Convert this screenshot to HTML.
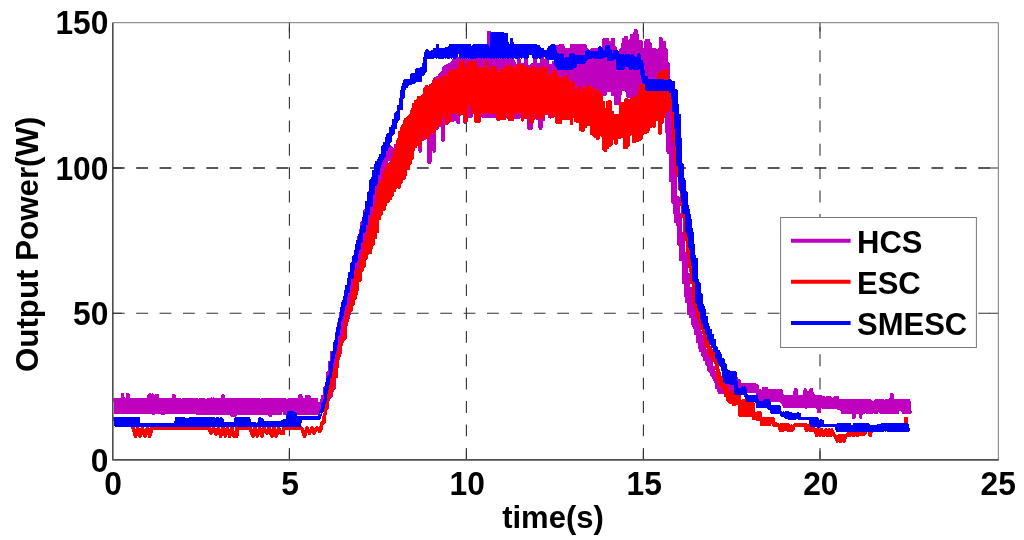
<!DOCTYPE html>
<html><head><meta charset="utf-8"><title>Output Power plot</title>
<style>html,body{margin:0;padding:0;background:#fff}#fig{position:relative;width:1024px;height:540px;overflow:hidden;background:#fff}</style>
</head><body><div id="fig">
<svg width="1024" height="540" viewBox="0 0 1024 540" style="position:absolute;left:0;top:0">
<rect width="1024" height="540" fill="#fff"/>
<g stroke="#333" stroke-width="1.1" stroke-dasharray="11.8 11.59" fill="none"><line x1="289.4" y1="459.7" x2="289.4" y2="22.7"/><line x1="466.4" y1="459.7" x2="466.4" y2="22.7"/><line x1="643.4" y1="459.7" x2="643.4" y2="22.7"/><line x1="820.0" y1="459.7" x2="820.0" y2="22.7" stroke-width="1.3" stroke="#555"/><line x1="112.8" y1="313.3" x2="998.3" y2="313.3"/><line x1="112.8" y1="168.0" x2="998.3" y2="168.0" stroke-width="1.4" stroke="#222"/></g><path d="M289.4 22.7v8.9M289.4 459.7v-8.9M466.4 22.7v8.9M466.4 459.7v-8.9M643.4 22.7v8.9M643.4 459.7v-8.9M820.0 22.7v8.9M820.0 459.7v-8.9M112.8 313.3h8.9M998.3 313.3h-8.9M112.8 168.0h8.9M998.3 168.0h-8.9" stroke="#333" stroke-width="1.1" fill="none"/>
<clipPath id="cp"><rect x="113.4" y="23.2" width="884.3" height="435.6"/></clipPath>
<g clip-path="url(#cp)" fill="none" stroke-width="3.7" stroke-linejoin="round" stroke-linecap="round" shape-rendering="crispEdges">
<path stroke="#bf00bf" d="M114.6 400.0L115.3 400.0L115.8 412.3L116.4 412.3L117.3 400.0L118.0 412.3L118.4 412.3L118.9 400.0L119.3 400.0L120.2 412.3L120.6 400.0L121.1 412.3L121.8 400.0L122.2 412.3L122.6 395.0L123.3 412.3L124.1 400.0L124.7 412.3L125.5 400.0L126.0 412.3L126.8 412.3L127.6 395.0L128.3 395.0L128.8 412.3L129.3 400.0L130.0 412.3L130.6 400.0L131.1 412.3L131.9 412.3L132.4 400.0L133.1 400.0L133.7 412.3L134.1 412.3L134.8 400.0L135.5 400.0L136.1 412.4L136.6 400.0L137.0 400.0L137.8 412.4L138.6 412.4L139.5 400.0L139.9 412.4L140.6 412.4L141.2 400.0L141.8 412.4L142.5 412.4L143.0 400.0L143.7 412.4L144.3 400.0L145.2 400.0L145.9 412.4L146.7 400.0L147.6 400.0L148.4 412.4L149.3 395.2L150.0 412.4L150.5 395.2L151.1 412.4L151.5 412.4L152.2 395.2L152.8 413.0L153.6 413.0L154.3 400.0L155.1 400.0L155.7 412.4L156.2 395.5L157.1 395.5L158.0 412.3L158.7 400.0L159.5 400.0L160.0 412.3L160.5 400.0L161.1 400.0L161.7 412.9L162.6 412.9L163.1 400.0L163.5 400.0L163.9 412.9L164.4 412.9L165.3 400.0L166.2 412.4L166.6 412.4L167.3 400.0L168.0 412.4L168.7 400.0L169.4 412.4L169.9 400.0L170.6 400.0L171.0 412.4L171.6 400.0L172.2 400.0L173.0 412.4L173.7 395.5L174.6 412.4L175.1 412.4L175.5 400.0L176.0 412.4L176.7 400.0L177.1 400.0L177.9 412.4L178.6 412.4L179.2 400.0L180.0 400.0L180.5 412.5L181.0 412.5L181.9 402.0L182.6 412.5L183.2 400.0L183.9 400.0L184.7 412.5L185.1 400.0L185.9 400.0L186.5 412.5L187.0 400.0L187.6 412.5L188.3 412.5L189.2 400.0L190.0 412.5L190.7 412.5L191.5 400.0L192.2 412.5L193.0 400.0L193.9 400.0L194.7 412.5L195.2 412.5L195.8 400.0L196.6 400.0L197.2 413.6L197.8 403.5L198.3 413.6L199.1 403.5L199.6 413.6L200.1 400.0L200.7 400.0L201.6 412.9L202.1 412.9L202.8 400.0L203.6 400.0L204.5 413.5L204.9 413.5L205.7 401.1L206.3 401.1L206.7 413.5L207.2 413.5L208.0 400.0L208.6 413.5L209.1 400.0L209.7 400.0L210.1 413.5L210.7 413.5L211.3 399.2L211.8 413.5L212.6 413.5L213.2 399.2L214.0 399.2L214.6 413.5L215.2 413.5L215.9 401.7L216.4 413.5L217.0 413.5L217.6 400.0L218.3 413.5L219.0 400.0L219.7 413.5L220.3 400.0L221.1 400.0L221.5 413.5L222.1 413.5L223.0 395.9L223.8 413.5L224.3 413.5L225.1 400.0L225.9 400.0L226.7 413.5L227.4 413.5L228.2 400.0L229.0 400.0L229.6 413.5L230.1 413.5L230.6 400.3L231.4 400.3L231.9 415.1L232.7 415.1L233.2 400.0L233.8 400.0L234.3 415.1L234.8 415.1L235.2 400.0L235.7 407.9L236.1 400.0L236.8 413.5L237.2 413.5L237.9 400.0L238.5 400.0L239.0 413.5L239.7 413.5L240.5 400.0L241.2 413.5L242.0 400.0L242.8 400.0L243.4 413.5L244.2 400.0L244.9 413.5L245.5 400.0L246.3 413.5L247.0 413.5L247.9 400.0L248.7 400.0L249.6 413.5L250.1 413.5L251.0 400.0L251.7 413.5L252.2 400.0L252.7 400.0L253.5 413.5L254.0 413.5L254.6 400.0L255.1 413.5L255.5 400.0L256.4 400.0L256.9 413.5L257.4 413.5L257.9 400.0L258.7 413.5L259.3 400.0L260.1 413.5L260.9 413.5L261.8 400.0L262.5 413.5L263.1 413.5L263.6 400.0L264.2 413.5L265.1 400.0L265.5 413.5L266.0 400.0L266.4 413.5L266.9 413.5L267.5 400.0L268.3 413.1L268.8 413.1L269.5 400.0L270.1 415.0L270.8 415.0L271.6 400.0L272.3 400.0L272.7 413.5L273.4 400.0L274.3 413.5L274.9 413.5L275.5 400.0L276.1 413.5L276.5 413.5L277.2 400.0L278.0 400.0L278.9 413.5L279.5 413.5L280.0 400.0L280.6 413.5L281.4 400.0L282.3 409.8L283.0 400.0L283.7 400.0L284.5 413.5L285.4 400.0L286.2 413.5L287.0 402.9L287.6 402.9L288.4 413.5L289.0 400.0L289.8 413.5L290.2 400.0L290.8 408.8L291.5 400.0L292.2 408.8L292.8 408.8L293.7 400.0L294.5 400.0L295.2 413.5L295.9 413.5L296.5 400.0L297.3 413.5L298.1 400.0L298.7 413.5L299.2 413.5L300.0 396.1L300.8 396.1L301.3 413.5L302.1 413.5L302.7 400.0L303.3 413.5L304.2 400.0L304.6 400.0L305.2 413.5L306.0 413.5L306.4 396.6L306.8 396.6L307.6 413.5L308.2 396.6L309.0 396.6L309.6 413.5L310.3 400.0L310.9 400.0L311.5 413.5L312.0 400.0L312.8 413.5L313.6 400.0L314.4 400.0L315.2 413.5L315.8 400.0L316.6 400.0L317.0 413.5L317.5 413.5L318.5 406.0L319.3 406.0L320.1 410.5L320.7 410.5L321.5 400.7L322.2 410.2L322.9 396.7L323.4 396.7L324.1 409.2L324.5 409.2L325.0 387.9L325.9 387.9L326.6 407.8L327.4 407.8L328.2 372.5L329.1 397.3L329.7 362.6L330.4 362.6L331.1 396.1L331.9 352.8L332.3 352.8L333.0 388.0L333.9 388.0L334.6 346.4L335.2 346.4L336.0 373.7L336.5 373.7L337.4 330.0L338.2 358.7L338.8 323.5L339.6 352.3L340.3 352.3L341.1 312.8L341.5 312.8L341.9 341.2L342.6 341.2L343.5 304.6L344.1 334.3L344.5 334.3L345.1 297.5L345.8 297.5L346.5 324.8L347.0 289.3L347.6 289.3L348.0 317.6L348.6 317.6L349.5 281.0L350.0 308.7L350.9 274.9L351.7 301.3L352.1 267.0L352.6 297.2L353.1 297.2L353.9 259.6L354.8 287.9L355.5 287.9L356.4 247.9L357.1 247.9L357.5 273.5L358.4 273.5L359.0 237.2L359.6 237.2L360.0 262.6L360.4 231.0L361.1 258.0L361.9 223.0L362.7 223.0L363.6 250.0L364.3 250.0L365.1 210.4L365.5 210.4L366.0 240.2L366.7 240.2L367.2 203.2L367.9 203.2L368.3 230.5L369.0 230.5L369.6 192.6L370.1 192.6L370.7 220.6L371.2 186.6L371.7 216.2L372.3 216.2L373.0 183.1L373.5 183.1L373.9 206.3L374.4 206.3L374.9 176.2L375.4 201.1L375.9 173.5L376.5 196.6L377.2 169.6L377.7 169.6L378.2 190.5L378.7 164.4L379.4 164.4L380.2 185.2L380.9 158.0L381.4 181.0L381.8 155.6L382.4 155.6L383.1 174.7L383.6 152.7L384.3 168.7L385.0 155.0L385.8 164.3L386.3 164.3L386.8 152.3L387.5 159.6L388.4 159.6L389.3 146.8L390.0 158.4L390.8 158.4L391.2 148.2L391.8 148.2L392.4 183.0L392.9 183.0L393.3 149.5L394.0 149.5L394.8 178.5L395.3 178.5L396.0 145.3L396.7 145.3L397.5 167.1L398.3 139.8L398.8 164.6L399.5 164.6L400.0 139.4L400.5 139.4L401.1 163.3L401.8 163.3L402.4 131.2L403.1 159.1L403.8 128.5L404.2 128.5L404.8 154.3L405.6 124.2L406.2 152.1L407.0 152.1L407.9 120.3L408.4 120.3L409.1 151.3L409.7 116.6L410.3 116.6L411.0 149.1L411.8 149.1L412.3 111.3L412.9 147.5L413.3 147.5L413.7 109.2L414.5 109.2L415.0 145.7L415.8 106.3L416.6 106.3L417.1 141.3L417.6 103.9L418.2 140.3L418.8 102.3L419.6 102.3L420.3 151.0L421.0 100.0L421.8 100.0L422.5 139.3L423.2 97.0L423.9 138.1L424.6 138.1L425.1 94.5L425.9 94.5L426.7 135.8L427.2 135.8L427.8 90.3L428.3 90.3L429.1 162.0L429.8 162.0L430.3 90.9L430.7 90.9L431.5 130.8L432.2 84.3L432.8 129.7L433.6 81.3L434.2 151.0L435.1 79.0L435.5 79.0L436.4 128.0L437.1 128.0L437.8 77.5L438.5 77.5L439.1 125.7L439.6 75.6L440.0 125.0L440.5 74.6L441.2 124.5L441.9 73.0L442.7 140.0L443.1 140.0L443.7 68.4L444.3 68.4L444.8 121.3L445.2 66.9L445.8 66.9L446.6 122.4L447.1 65.7L447.7 65.7L448.2 121.7L448.8 121.7L449.3 64.4L450.0 64.4L450.8 120.7L451.2 63.3L451.9 63.3L452.6 120.0L453.0 120.0L453.8 60.0L454.5 119.2L455.2 59.2L455.9 118.8L456.8 118.8L457.3 58.3L458.0 122.0L458.6 122.0L459.4 59.0L459.9 59.0L460.6 113.7L461.1 113.7L461.7 57.9L462.2 57.9L462.9 113.1L463.7 57.1L464.2 57.1L464.6 122.0L465.3 56.3L465.8 56.3L466.5 116.0L467.1 55.8L468.0 55.8L468.5 116.1L469.2 59.3L469.9 116.1L470.5 59.1L471.1 116.1L471.8 58.9L472.5 58.9L473.1 112.4L473.5 112.4L474.0 58.3L474.7 58.3L475.4 112.5L475.9 58.0L476.6 58.0L477.1 112.6L477.7 57.8L478.4 112.6L478.9 112.6L479.5 53.3L479.9 53.3L480.7 111.8L481.3 111.8L482.0 53.3L482.5 53.3L483.1 116.4L483.5 53.3L484.3 53.3L484.9 116.5L485.6 116.5L486.3 54.0L486.7 54.0L487.2 116.5L487.8 116.5L488.6 32.5L489.2 32.5L489.7 116.6L490.4 116.6L491.0 58.3L491.7 116.7L492.3 58.2L492.9 116.7L493.5 58.1L494.1 58.1L495.0 116.7L495.6 53.4L496.3 53.4L497.1 116.4L498.0 53.2L498.8 53.2L499.6 116.5L500.3 116.5L501.0 53.0L501.7 53.0L502.4 116.9L503.3 53.0L504.2 113.6L504.7 53.0L505.6 53.0L506.0 113.6L506.6 113.6L507.5 53.0L508.2 53.0L508.7 117.1L509.1 117.1L509.6 53.0L510.4 117.1L511.0 117.1L511.8 54.5L512.3 117.2L513.2 117.2L513.7 61.8L514.1 117.2L514.6 65.4L515.0 65.4L515.7 117.3L516.2 117.3L516.9 65.4L517.5 65.4L518.0 117.3L518.7 59.0L519.5 116.7L520.2 116.7L521.0 65.0L521.5 65.0L522.0 116.8L522.9 116.8L523.5 65.0L523.9 65.0L524.5 116.9L524.9 116.9L525.5 59.0L526.1 59.0L526.8 117.5L527.3 117.5L527.9 66.6L528.5 66.6L529.0 128.0L529.8 66.6L530.6 128.0L531.0 128.0L531.7 65.0L532.3 116.1L532.8 65.0L533.4 65.0L534.3 117.7L534.7 117.7L535.3 59.0L536.1 117.8L536.9 65.0L537.4 117.8L538.2 65.0L538.7 117.8L539.6 64.4L540.2 128.0L540.8 128.0L541.7 59.0L542.6 59.0L543.4 119.1L544.2 69.8L544.9 113.6L545.6 113.6L546.3 59.0L547.0 59.0L547.7 112.9L548.3 65.3L549.0 65.3L549.8 116.7L550.5 116.7L551.0 65.3L551.5 116.3L552.0 116.3L552.4 65.3L553.1 115.8L553.6 62.9L554.4 62.9L555.0 112.3L555.9 53.4L556.6 111.8L557.2 46.7L557.9 46.7L558.6 114.4L559.1 114.4L559.9 46.0L560.6 46.0L561.5 113.6L561.9 46.0L562.7 46.0L563.6 108.6L564.4 50.0L565.2 50.0L565.7 108.0L566.1 50.0L566.7 50.0L567.6 107.5L568.1 107.5L568.7 50.0L569.3 50.0L569.9 111.4L570.6 111.4L571.5 46.0L572.2 46.0L572.8 107.1L573.4 46.0L574.1 46.0L574.7 106.6L575.3 46.0L576.1 107.5L576.9 107.5L577.6 46.0L578.4 106.1L578.9 46.0L579.8 46.0L580.3 104.6L580.8 46.0L581.4 46.0L581.9 103.7L582.8 46.0L583.2 46.0L583.7 102.6L584.6 46.0L585.2 46.0L586.0 107.2L586.8 50.0L587.7 106.2L588.2 106.2L588.8 51.2L589.3 101.9L589.8 101.9L590.3 51.2L591.1 51.2L591.9 100.4L592.4 50.0L593.1 50.0L594.0 99.3L594.7 50.0L595.2 50.0L596.0 98.1L596.8 98.1L597.4 50.0L597.8 50.0L598.5 96.7L599.2 50.0L599.9 50.0L600.8 95.3L601.2 50.0L601.6 94.8L602.2 50.0L603.1 50.0L603.5 94.0L604.0 40.1L604.4 94.0L604.9 94.0L605.5 40.0L606.1 40.0L606.8 90.0L607.5 40.0L608.2 90.0L608.9 90.0L609.3 42.6L610.0 90.0L610.5 90.0L611.1 42.6L612.0 42.6L612.5 94.0L613.0 39.5L613.8 94.0L614.6 94.0L615.3 48.0L616.0 103.5L616.7 54.1L617.5 54.1L618.1 103.5L618.8 103.5L619.3 56.2L620.1 56.2L620.6 93.2L621.3 49.6L622.0 89.2L622.7 89.2L623.4 39.8L624.3 39.8L624.8 89.2L625.3 89.2L625.8 37.4L626.6 37.4L627.4 95.2L627.9 42.2L628.4 96.3L629.2 41.9L629.8 96.1L630.5 96.1L631.4 35.7L631.8 35.7L632.6 94.7L633.4 94.7L634.2 34.0L634.7 34.0L635.4 94.9L635.9 30.5L636.7 94.7L637.5 36.0L638.2 94.4L638.7 94.4L639.1 42.0L639.9 94.2L640.6 42.0L641.4 42.0L642.1 92.9L643.0 92.9L643.8 49.4L644.7 94.4L645.5 94.4L646.3 40.8L646.7 93.8L647.5 40.8L648.1 93.3L648.6 40.8L649.0 93.0L649.8 93.0L650.3 44.0L651.2 92.3L651.9 92.3L652.5 49.5L653.4 49.5L654.1 91.3L654.7 91.3L655.1 49.9L655.8 90.7L656.2 90.7L656.9 56.4L657.4 85.3L658.3 85.3L658.8 50.1L659.3 50.1L659.9 99.5L660.8 38.6L661.2 97.4L661.8 97.4L662.3 42.8L663.1 74.9L663.5 74.9L664.2 42.8L664.7 100.0L665.5 50.1L666.0 50.1L666.7 131.8L667.3 131.8L667.7 63.3L668.2 152.0L668.9 152.0L669.7 102.4L670.4 102.4L670.9 180.5L671.7 134.8L672.4 134.8L673.1 202.2L673.8 160.5L674.7 213.0L675.2 175.8L675.9 221.7L676.5 221.7L677.2 198.0L678.0 198.0L678.6 243.9L679.4 214.4L680.3 214.4L680.9 259.6L681.5 259.6L682.4 233.9L683.0 233.9L683.7 282.7L684.3 282.7L685.1 254.3L685.9 254.3L686.4 301.0L687.2 301.0L688.1 274.3L688.9 313.6L689.4 313.6L690.1 288.6L690.8 316.5L691.2 316.5L691.9 300.6L692.3 300.6L693.2 324.9L694.0 310.8L694.8 310.8L695.5 333.0L696.1 333.0L696.6 319.9L697.2 319.9L697.9 341.5L698.5 326.0L699.1 326.0L699.6 347.1L700.4 332.7L701.0 350.6L701.7 337.1L702.3 337.1L703.0 355.3L703.4 344.7L704.1 344.7L704.6 359.1L705.5 359.1L705.9 351.9L706.6 363.8L707.1 363.8L707.7 350.8L708.3 350.8L708.8 370.0L709.4 354.9L710.2 354.9L710.7 371.8L711.1 362.7L711.5 374.3L712.2 374.3L712.9 367.2L713.4 377.9L714.3 377.9L714.7 372.7L715.4 381.7L715.9 376.3L716.7 387.6L717.1 387.6L717.9 377.6L718.8 377.6L719.2 392.0L719.7 378.0L720.2 378.0L720.8 392.0L721.6 392.0L722.2 378.0L722.7 378.0L723.4 391.9L724.1 378.0L724.8 391.9L725.3 391.9L725.8 378.0L726.3 391.8L727.1 378.0L727.6 391.8L728.3 378.0L728.7 378.0L729.6 391.7L730.5 378.0L731.3 378.0L731.9 391.7L732.7 381.0L733.4 381.0L734.0 391.6L734.5 391.6L735.5 378.1L736.4 378.1L737.2 391.5L738.0 391.5L738.8 380.9L739.7 391.5L740.5 385.0L741.3 385.0L742.0 391.5L742.7 385.0L743.3 391.5L743.8 385.0L744.5 391.5L745.3 385.0L746.1 385.0L747.0 391.5L747.8 391.5L748.5 385.0L748.9 391.5L749.6 385.0L750.0 385.0L750.5 391.5L751.4 391.5L752.2 385.0L752.7 385.0L753.3 391.5L754.0 391.5L754.6 385.0L755.3 391.5L756.0 385.5L756.9 385.5L757.7 398.4L758.2 391.0L758.9 398.4L759.5 391.0L760.0 391.0L760.9 400.0L761.4 400.0L762.3 393.4L763.1 398.9L763.9 388.7L764.5 388.7L765.1 398.9L765.5 398.9L766.1 388.7L766.7 388.7L767.4 400.0L768.2 400.0L768.7 391.0L769.5 400.0L770.1 400.0L770.5 391.0L771.3 391.0L772.0 400.0L772.8 400.0L773.3 391.0L774.1 391.0L774.7 400.0L775.5 400.0L775.9 391.0L776.6 400.0L777.4 391.0L777.9 391.0L778.6 400.0L779.0 400.0L779.6 391.0L780.2 400.0L780.6 400.0L781.5 391.0L782.2 402.3L782.7 396.5L783.5 396.5L784.3 406.0L784.7 406.0L785.3 396.5L785.9 396.5L786.3 406.0L787.2 406.0L787.7 396.5L788.2 396.5L788.6 406.0L789.3 406.0L790.0 396.5L790.9 406.0L791.5 406.0L792.3 396.5L793.1 406.0L793.7 398.6L794.2 398.6L794.7 406.0L795.4 390.0L796.0 390.0L796.6 406.0L797.4 396.5L797.9 406.0L798.4 396.5L799.2 396.5L799.8 406.0L800.6 396.5L801.4 396.5L802.1 406.0L802.9 396.5L803.4 396.5L804.1 406.0L804.6 406.0L805.3 390.0L806.0 407.1L806.8 392.9L807.3 392.9L808.1 406.0L809.0 406.0L809.5 396.5L810.1 406.0L810.7 390.0L811.6 390.0L812.1 406.0L812.5 396.2L813.2 396.2L813.7 406.0L814.4 396.2L814.9 406.0L815.4 406.0L816.2 396.5L816.8 406.3L817.2 396.5L817.7 396.5L818.5 411.5L819.1 411.5L819.9 396.5L820.7 396.5L821.2 406.3L821.7 397.5L822.3 397.5L822.9 407.0L823.4 397.5L823.8 397.5L824.5 407.0L825.3 407.0L826.0 399.8L826.6 407.0L827.1 397.5L827.8 397.5L828.5 407.0L829.1 397.5L830.0 397.5L830.5 407.0L831.3 400.2L831.9 407.0L832.4 407.0L833.0 399.5L833.8 407.0L834.6 407.0L835.2 397.5L835.7 407.0L836.5 397.5L837.3 397.5L838.1 408.6L838.9 408.6L839.6 401.0L840.0 408.6L840.6 408.6L841.3 401.0L841.8 401.0L842.4 412.0L842.9 412.0L843.7 401.0L844.4 412.0L844.9 401.0L845.3 412.0L845.9 401.0L846.7 412.0L847.4 412.0L848.2 401.0L849.1 412.0L849.6 412.0L850.2 401.0L851.0 401.0L851.8 412.0L852.6 401.0L853.0 401.0L853.5 417.0L854.0 417.0L854.5 401.0L855.1 409.4L855.6 401.0L856.4 401.0L857.2 412.0L857.6 412.0L858.5 401.0L859.1 412.0L860.0 401.0L860.6 417.0L861.2 401.0L861.6 412.0L862.1 401.0L862.5 401.0L863.0 412.0L863.9 412.0L864.5 401.0L865.4 408.4L866.2 401.0L867.0 412.0L867.4 401.0L868.3 401.0L869.0 412.0L869.4 401.0L870.3 401.0L870.9 412.0L871.7 402.6L872.4 412.0L872.9 402.6L873.7 402.6L874.6 412.0L875.3 412.0L876.0 401.0L876.8 412.0L877.5 401.0L878.1 401.0L878.5 409.0L879.2 409.0L880.0 401.0L880.4 401.0L881.0 412.0L881.6 412.0L882.4 401.0L883.1 401.0L883.9 412.0L884.8 412.0L885.6 401.2L886.1 412.0L887.0 401.0L887.7 412.0L888.3 401.0L889.1 412.0L889.6 412.0L890.4 401.0L890.8 412.0L891.5 395.0L892.4 395.0L892.8 412.0L893.4 412.0L893.8 401.0L894.4 401.0L895.0 412.4L895.6 412.4L896.2 401.0L896.6 401.0L897.1 412.0L897.6 412.0L898.1 401.0L898.6 401.0L899.4 409.0L900.0 409.0L900.9 401.0L901.5 401.0L902.3 409.0L902.7 401.0L903.4 412.0L904.2 412.0L904.7 401.0L905.2 412.0L905.9 401.0L906.7 401.0L907.5 412.0L908.3 412.0L908.8 401.0L909.2 412.0L909.9 412.0"/>
<path stroke="#ff0000" d="M133.0 428.0L135.6 436.0L137.6 428.0L140.2 436.0L142.4 428.0L144.8 436.0L147.5 428.0L149.7 436.0L152.1 428.0L154.4 428.2L156.5 428.2L158.7 428.2L161.2 428.2L163.9 428.2L166.5 428.2L168.7 428.2L171.4 428.2L173.5 428.2L175.9 428.2L178.7 428.2L181.5 428.2L183.9 428.2L186.1 428.2L188.3 428.2L190.3 428.2L192.4 428.2L194.8 428.2L197.2 428.2L199.7 428.2L202.0 428.2L204.2 428.2L206.7 428.2L208.9 428.2L211.0 432.9L213.7 428.0L216.0 434.2L218.3 428.0L220.6 436.0L222.8 428.0L225.4 436.0L227.4 428.0L229.7 436.0L231.9 428.0L234.1 436.0L236.7 436.0L236.7 428.2L238.8 428.2L240.9 428.2L243.2 428.2L245.3 428.2L247.6 428.2L250.3 428.0L252.9 436.0L255.0 428.0L257.4 436.0L259.6 428.0L261.9 436.0L264.1 428.0L266.8 433.1L269.1 428.0L271.8 436.0L273.9 428.0L276.3 436.0L278.6 428.0L281.2 433.6L283.5 433.6L283.5 428.2L285.9 428.2L288.1 428.2L290.2 428.2L292.4 428.2L294.5 428.2L297.0 428.2L299.3 428.2L301.8 428.2L304.6 436.0L307.1 428.0L309.5 433.2L311.8 428.0L314.1 432.9L316.7 428.0L319.5 430.0L319.9 431.5L320.5 427.3L320.9 427.3L321.3 428.5L321.7 423.4L322.3 423.4L323.2 422.2L323.8 422.2L324.5 414.1L325.3 413.7L325.9 405.5L326.4 405.5L326.9 404.7L327.5 404.7L327.9 396.7L328.5 396.7L329.3 394.7L330.2 386.4L330.9 386.4L331.7 392.2L332.4 376.6L333.1 385.6L333.9 369.8L334.7 369.8L335.2 376.8L336.0 376.8L336.7 366.2L337.2 366.2L337.7 356.9L338.2 356.9L338.9 356.6L339.5 349.7L340.2 349.0L340.8 344.5L341.3 344.5L342.1 339.2L342.6 338.9L343.5 338.9L344.1 338.9L344.7 338.9L345.5 321.6L346.3 321.3L346.8 321.3L347.5 313.1L348.3 313.1L348.7 311.2L349.6 306.6L350.1 306.6L350.9 310.7L351.7 297.1L352.2 297.1L352.7 304.8L353.4 289.1L354.0 289.1L354.6 298.4L355.0 298.4L355.4 276.9L356.2 293.3L356.7 271.2L357.2 289.9L357.9 271.1L358.5 271.1L359.0 280.4L359.9 280.4L360.7 261.0L361.3 261.0L362.0 270.5L362.7 254.6L363.3 266.2L363.8 266.2L364.7 243.8L365.2 258.7L365.9 258.7L366.7 237.3L367.2 253.1L367.8 253.1L368.5 229.8L368.9 229.8L369.5 252.1L370.3 252.1L370.7 222.6L371.4 247.1L371.9 218.5L372.4 243.9L373.2 243.9L374.0 213.9L374.7 237.7L375.3 237.7L375.9 205.0L376.5 205.0L377.1 231.3L377.9 191.3L378.3 191.3L379.1 218.6L380.0 184.5L380.9 184.5L381.6 213.8L382.4 180.5L383.1 180.5L383.8 208.9L384.6 208.9L385.4 171.0L386.2 201.7L387.1 201.7L387.5 166.4L388.0 200.5L388.4 164.5L388.9 164.5L389.8 198.3L390.2 198.3L391.0 163.3L391.9 163.3L392.4 194.8L393.0 159.2L393.7 159.2L394.6 190.1L395.3 152.3L395.9 187.5L396.5 148.2L397.4 184.5L398.2 140.1L398.7 186.8L399.3 186.8L399.9 132.3L400.7 132.3L401.2 181.9L401.9 128.2L402.7 178.8L403.2 125.6L403.6 177.9L404.1 177.9L404.9 121.0L405.3 174.1L405.8 119.3L406.4 119.3L407.2 168.6L408.0 168.6L408.6 117.7L409.1 117.7L409.8 162.9L410.6 162.9L411.4 112.0L412.0 158.4L412.8 109.0L413.3 149.9L413.8 104.5L414.2 104.5L415.0 146.5L415.4 146.5L416.0 101.3L416.4 101.3L417.2 142.8L417.7 142.8L418.5 97.8L419.2 145.8L420.0 99.7L420.6 143.7L421.4 97.7L422.1 135.9L423.0 95.6L423.8 133.6L424.5 133.6L425.3 88.5L426.1 137.7L426.7 86.5L427.4 136.9L428.0 136.9L428.8 88.0L429.5 127.1L430.0 127.1L430.7 85.8L431.6 132.4L432.3 132.4L432.9 83.9L433.3 131.0L433.9 131.0L434.5 80.1L435.4 127.6L435.8 127.6L436.5 80.9L437.3 80.9L437.9 125.4L438.8 81.8L439.6 81.8L440.0 123.7L440.5 78.5L441.0 78.5L441.6 115.9L442.1 79.7L443.0 79.7L443.8 116.0L444.6 116.0L445.0 76.4L445.9 76.4L446.7 123.2L447.6 77.7L448.3 121.3L448.8 121.3L449.2 73.4L449.6 113.1L450.3 113.1L450.8 72.1L451.3 111.1L451.9 71.2L452.6 110.4L453.4 72.2L454.2 112.4L454.8 70.9L455.4 70.9L456.2 111.8L456.9 70.6L457.4 111.4L458.2 69.5L459.0 69.5L459.5 114.0L460.3 63.1L461.1 63.1L461.8 113.3L462.5 113.3L463.0 62.5L463.7 112.7L464.3 112.7L465.0 68.5L465.6 120.7L466.2 120.7L466.8 68.5L467.3 68.5L467.9 104.4L468.6 104.4L469.2 62.5L470.0 104.4L470.6 104.4L471.2 62.5L471.9 62.5L472.4 112.0L472.8 62.5L473.5 62.5L474.3 112.0L474.8 112.0L475.2 62.5L476.0 121.0L476.6 121.0L477.1 68.4L477.8 68.4L478.4 121.0L478.9 121.0L479.3 68.4L479.9 110.5L480.7 68.4L481.5 68.4L482.0 110.5L482.7 68.5L483.1 112.0L484.0 112.0L484.7 68.5L485.4 111.4L485.8 111.4L486.6 62.5L487.1 111.4L487.7 111.4L488.3 70.5L488.8 70.5L489.4 112.0L490.2 112.0L490.7 72.3L491.3 112.0L491.8 68.0L492.6 112.0L493.2 68.1L494.0 68.1L494.5 112.0L495.2 68.1L495.9 112.0L496.3 112.0L497.2 73.1L497.9 118.9L498.5 118.9L499.2 73.2L499.8 118.9L500.3 73.3L501.1 117.9L501.6 70.2L502.4 117.9L503.2 69.9L503.6 69.9L504.1 117.9L504.8 117.9L505.5 70.0L506.1 112.0L507.0 66.5L507.8 66.5L508.5 112.0L509.4 66.7L509.9 119.4L510.6 119.4L511.3 68.0L512.0 119.4L512.5 119.4L513.3 68.0L513.9 112.0L514.4 69.7L515.0 112.0L515.7 69.7L516.5 112.0L517.3 112.0L518.0 65.8L518.5 107.6L519.2 65.8L519.9 65.8L520.7 111.4L521.2 111.4L521.9 66.1L522.6 119.8L523.1 68.1L523.7 116.8L524.3 68.1L524.9 116.8L525.3 68.2L526.1 68.2L526.8 116.8L527.3 69.6L528.0 69.6L528.7 112.5L529.5 112.5L530.2 69.7L530.9 69.7L531.3 122.5L531.9 122.5L532.7 68.2L533.2 68.2L533.7 109.2L534.4 109.2L535.1 68.3L535.6 68.3L536.4 117.0L537.3 117.0L538.2 73.5L538.9 73.5L539.5 117.0L540.2 68.3L541.0 117.0L541.5 68.3L541.9 68.3L542.4 117.0L542.9 68.4L543.8 68.4L544.3 113.7L545.1 68.4L545.7 113.7L546.4 68.4L547.3 113.7L547.8 75.4L548.7 75.4L549.3 111.6L549.8 111.6L550.5 75.4L551.3 75.4L551.8 116.2L552.6 116.2L553.5 71.9L554.0 114.6L554.6 71.9L555.0 114.6L555.6 114.6L556.3 74.9L557.0 122.0L557.9 122.0L558.5 78.3L559.0 78.3L559.5 122.0L559.9 78.5L560.6 122.0L561.1 78.7L561.8 118.2L562.4 118.2L563.2 79.1L563.6 118.2L564.4 118.2L565.2 79.5L565.9 118.1L566.5 76.7L567.3 118.1L568.0 118.1L568.4 81.3L569.3 118.1L570.2 86.0L571.1 86.0L571.5 123.1L572.3 83.0L573.1 83.0L573.8 116.4L574.6 116.4L575.3 91.7L575.9 120.4L576.8 92.0L577.2 121.0L578.0 121.0L578.7 87.6L579.4 121.5L580.0 93.6L580.4 93.6L580.8 129.6L581.2 93.9L582.0 129.9L582.5 94.1L583.0 130.1L583.8 88.6L584.3 88.6L585.0 126.6L585.8 88.9L586.2 88.9L586.7 123.6L587.2 123.6L587.6 87.3L588.4 87.3L588.9 124.2L589.4 124.2L590.2 87.8L591.1 87.8L591.8 133.4L592.4 133.4L593.1 90.3L593.5 90.3L594.0 135.2L594.6 135.2L595.0 90.6L595.4 136.3L596.1 136.3L596.5 90.9L597.1 90.9L597.6 138.1L598.1 138.1L598.5 94.1L599.4 94.1L599.9 132.8L600.8 95.7L601.4 95.7L601.9 134.8L602.7 134.8L603.3 102.5L604.1 149.3L604.9 109.2L605.4 150.6L606.0 109.8L606.6 109.8L607.0 147.0L607.5 147.0L608.0 102.2L608.8 102.2L609.4 145.1L610.0 101.9L610.7 144.0L611.5 144.0L612.0 112.9L612.6 112.9L613.5 137.7L614.2 137.7L614.9 115.5L615.6 115.5L616.1 142.9L616.6 115.5L617.4 115.5L617.9 137.4L618.6 116.0L619.1 137.4L620.0 137.4L620.9 104.0L621.6 104.0L622.1 136.3L622.8 136.3L623.3 104.0L624.1 136.3L624.5 104.0L625.0 147.8L625.7 100.0L626.5 147.2L626.9 100.0L627.7 145.8L628.4 101.1L629.2 134.2L630.1 134.2L630.7 100.1L631.4 131.6L631.9 131.6L632.6 99.1L633.1 99.1L633.9 141.5L634.5 141.5L635.1 97.3L635.6 97.3L636.5 140.3L636.9 140.3L637.7 97.3L638.3 139.8L639.0 139.8L639.7 91.4L640.5 138.3L640.9 86.0L641.4 137.9L642.0 86.1L642.4 86.1L643.1 133.2L643.9 85.9L644.3 132.6L645.1 132.6L645.7 92.2L646.2 92.2L647.0 131.2L647.7 131.2L648.6 90.8L649.0 126.9L649.7 90.7L650.4 126.1L651.0 85.3L651.4 125.5L652.1 125.5L652.5 85.2L653.0 85.2L653.7 125.8L654.4 125.8L654.9 85.1L655.4 85.1L656.1 119.0L657.0 80.0L657.8 80.0L658.3 119.2L659.1 73.6L659.6 132.9L660.1 132.9L660.9 74.5L661.8 122.0L662.5 122.0L663.1 72.1L663.8 72.1L664.5 116.5L665.3 71.0L666.1 71.0L666.8 110.3L667.6 110.3L668.5 79.5L669.0 79.5L669.9 86.1L670.5 83.9L671.1 83.9L671.6 106.6L672.1 83.5L672.5 117.4L673.1 117.4L673.8 102.6L674.3 141.5L674.7 119.7L675.2 119.7L675.8 162.1L676.5 143.3L677.4 174.9L678.1 174.9L678.8 164.2L679.6 164.2L680.3 189.9L681.1 181.5L682.0 181.5L682.5 213.9L683.1 213.9L683.9 197.6L684.7 232.3L685.6 211.8L686.5 239.7L687.3 225.9L687.9 251.8L688.7 237.5L689.2 237.5L689.7 266.5L690.3 246.8L690.8 246.8L691.6 282.3L692.2 282.3L692.8 267.7L693.4 267.7L694.2 303.2L695.0 303.2L695.6 293.1L696.2 308.6L696.9 304.2L697.5 304.2L698.1 315.1L698.5 317.3L699.3 317.3L700.0 321.3L700.5 321.3L701.1 324.2L701.7 326.6L702.4 328.2L703.1 328.2L703.7 332.8L704.6 332.8L705.4 336.5L706.1 345.0L706.9 345.0L707.3 339.8L708.0 339.8L708.5 351.0L709.4 351.0L709.9 347.4L710.4 355.2L711.3 355.2L712.1 351.0L712.6 351.0L713.1 358.0L713.5 354.2L714.2 360.3L715.0 360.3L715.5 360.8L716.1 360.8L716.8 368.6L717.5 365.1L718.1 379.1L718.9 379.1L719.5 373.4L720.1 384.1L720.7 378.9L721.4 378.9L722.0 386.0L722.7 383.0L723.4 388.7L723.8 382.4L724.5 385.8L725.1 385.8L725.7 395.1L726.5 388.8L727.5 388.8L728.2 400.2L728.8 400.2L729.5 392.5L730.1 402.0L731.0 402.0L731.8 392.5L732.7 392.5L733.4 404.1L734.1 392.5L734.9 404.1L735.7 392.5L736.3 392.5L737.1 403.5L737.7 392.5L738.5 403.5L739.1 394.5L739.8 415.0L740.4 403.0L740.9 403.0L741.9 415.0L742.5 415.0L743.2 400.5L744.1 400.5L745.1 415.0L745.7 400.5L746.2 400.5L746.9 415.0L747.6 415.0L748.4 400.5L749.2 415.0L750.2 400.5L750.7 415.0L751.7 400.5L752.5 400.5L753.5 418.5L754.0 413.0L755.0 418.5L755.6 418.5L756.5 413.8L757.0 419.0L757.6 419.0L758.6 413.0L759.3 419.0L759.8 413.0L760.4 419.3L761.3 419.0L761.8 424.3L762.6 419.0L763.4 419.0L763.9 424.3L764.5 419.0L765.4 419.0L766.3 424.0L766.9 419.0L767.8 419.0L768.6 424.0L769.5 424.0L770.4 419.0L771.2 422.6L772.0 419.0L772.8 419.0L773.8 424.7L774.3 424.0L774.8 424.0L775.5 425.0L776.0 425.0L776.7 424.2L777.5 425.0L778.2 425.0L778.9 425.8L779.8 425.8L780.3 430.0L781.1 430.0L781.6 425.0L782.2 430.0L782.9 430.0L783.6 425.0L784.3 425.0L784.9 428.9L785.5 425.0L786.1 428.9L786.9 428.9L787.6 425.0L788.3 430.5L788.8 430.5L789.5 426.3L790.2 430.5L791.1 430.5L791.8 426.3L792.6 429.8L793.3 426.3L793.9 426.3L794.6 425.0L795.4 425.0L796.1 425.0L796.7 425.0L797.3 425.0L797.8 425.0L798.4 425.0L798.9 425.0L799.7 425.0L800.2 425.0L801.1 425.0L802.0 425.0L803.0 425.0L803.7 425.0L804.5 425.0L805.4 425.0L806.3 430.0L807.0 430.0L807.6 426.1L808.6 426.1L809.3 429.9L810.0 429.9L810.7 424.7L811.3 429.9L812.2 429.9L812.8 424.7L813.8 430.0L814.5 430.0L815.5 430.0L816.8 435.1L818.3 430.0L820.1 435.1L821.7 430.0L823.6 435.1L825.7 430.0L827.3 435.5L828.9 430.0L830.3 435.5L831.7 430.1L833.4 434.5L835.5 436.8L837.5 440.9L839.1 435.6L840.8 441.2L842.4 435.6L844.2 441.2L845.4 435.5L847.2 435.5L848.6 432.5L850.0 435.5L851.2 432.5L853.4 435.5L855.5 432.5L857.3 435.5L858.5 432.5L860.1 434.6L861.9 432.5L863.3 434.6L865.1 433.2L866.5 429.0L868.6 428.0L870.2 435.5L871.5 428.2L872.7 428.8L874.1 428.2L876.0 428.8L877.4 428.1L879.0 429.0L880.5 428.0L882.6 428.9L884.7 428.0L886.3 429.0L887.9 428.0L889.6 429.0L891.7 428.0L893.8 428.8L895.2 428.0L897.2 428.8L899.2 428.0L901.0 428.8L902.9 428.2L904.6 428.8L906.5 428.0L905.8 429.0L906.0 418.5L906.3 428.0"/>
<path stroke="#0000ff" d="M114.6 419.0L115.3 419.0L116.1 425.0L116.7 425.0L117.2 419.0L118.0 425.0L118.7 425.0L119.4 419.0L120.0 425.0L120.8 419.0L121.6 419.0L122.4 425.0L123.3 419.0L123.8 425.0L124.6 419.0L125.2 425.0L125.7 419.0L126.2 419.0L126.9 425.0L127.6 425.0L128.4 419.0L129.2 419.0L129.8 425.0L130.4 419.0L130.9 419.0L131.8 425.0L132.3 425.0L133.0 419.0L133.7 425.0L134.5 419.0L135.0 419.0L135.7 425.0L136.5 425.0L137.0 419.0L137.8 419.0L138.6 419.0L138.6 425.0L139.2 425.0L139.8 425.0L140.5 425.0L141.0 425.0L141.9 425.0L142.3 425.0L143.2 425.0L143.7 425.0L144.3 425.0L145.2 425.0L146.0 425.0L146.6 425.0L147.3 425.0L148.2 425.0L148.6 425.0L149.1 425.0L149.8 425.0L150.4 425.0L151.3 425.0L151.8 425.0L152.4 425.0L153.1 425.0L153.8 425.0L154.7 425.0L155.4 425.0L155.9 425.0L156.4 425.0L157.3 425.0L158.2 425.0L158.7 425.0L159.1 425.0L159.9 425.0L160.3 425.0L160.7 425.0L161.4 425.0L162.1 425.0L162.6 425.0L163.4 425.0L164.2 425.0L164.8 425.0L165.3 425.0L165.9 425.0L166.7 425.0L167.1 425.0L167.7 425.0L168.5 425.0L169.4 425.0L170.0 425.0L170.7 425.0L171.6 425.0L172.4 425.0L172.9 425.0L173.6 425.0L174.1 425.0L174.5 425.0L175.3 425.0L175.8 425.0L176.6 419.0L177.3 419.0L178.0 425.0L178.6 425.0L179.5 419.0L180.0 419.0L180.4 425.0L181.1 425.0L181.9 419.0L182.7 425.0L183.2 425.0L183.8 419.0L184.4 425.0L184.9 419.5L185.4 425.0L185.9 425.0L186.6 419.5L187.2 425.0L188.1 419.5L188.6 419.5L189.1 425.0L189.7 425.0L190.4 419.0L191.1 425.0L191.9 419.0L192.4 419.0L193.1 425.0L193.5 425.0L194.0 419.0L194.4 419.0L195.2 425.0L195.8 419.0L196.4 419.0L196.9 425.0L197.3 419.0L198.2 425.0L198.7 419.0L199.3 419.0L200.0 425.0L200.8 419.0L201.4 419.0L202.0 425.0L202.7 419.0L203.4 419.0L204.3 425.0L205.1 425.0L205.6 419.0L206.0 419.0L206.6 425.0L207.4 419.0L208.1 425.0L208.5 425.0L209.3 419.0L209.9 419.0L210.7 425.0L211.1 425.0L211.6 419.0L212.0 425.0L212.5 425.0L213.1 419.0L213.8 425.0L214.2 425.0L214.8 419.2L215.3 425.0L215.8 425.0L216.2 419.2L217.1 419.2L217.5 425.0L218.2 419.2L219.0 419.2L219.5 425.0L220.2 425.0L220.7 419.0L221.2 425.0L222.0 419.5L222.8 425.0L223.4 425.0L224.2 424.0L224.8 425.0L225.5 425.0L225.9 424.0L226.7 425.0L227.1 424.0L227.6 424.0L228.3 425.0L229.1 425.0L230.0 424.0L230.6 425.0L231.2 424.0L232.0 424.0L232.4 425.0L233.0 425.0L233.4 424.0L234.2 424.0L235.0 424.7L235.9 419.0L236.5 419.0L237.4 424.7L238.0 419.0L238.8 419.0L239.6 425.0L240.1 419.0L240.6 419.0L241.1 425.0L241.7 425.0L242.3 419.0L242.9 425.0L243.3 425.0L244.1 419.0L244.5 425.0L245.4 419.0L245.9 419.0L246.5 425.1L246.9 419.0L247.3 425.1L247.8 425.1L248.6 419.0L249.5 425.1L250.4 425.1L251.1 424.0L251.8 424.0L252.3 425.0L252.7 424.0L253.2 425.0L254.0 425.0L254.7 424.0L255.4 424.0L256.3 425.0L256.9 425.0L257.7 424.0L258.4 425.0L259.1 425.0L259.7 419.0L260.2 419.0L260.8 425.0L261.5 425.0L262.1 419.8L262.6 425.0L263.4 423.0L264.2 425.0L264.9 425.0L265.6 423.0L266.5 425.0L267.1 423.0L267.6 425.0L268.3 425.0L268.8 423.0L269.6 425.0L270.2 425.0L271.0 423.0L271.6 425.0L272.1 423.0L272.6 425.0L273.1 423.0L273.5 425.0L273.9 423.0L274.8 425.0L275.6 423.0L276.1 423.0L276.5 425.0L277.2 423.0L278.0 423.0L278.6 425.0L279.4 425.0L280.2 422.7L280.8 425.0L281.4 425.0L281.9 421.9L282.3 425.0L283.0 425.0L283.4 421.5L283.9 425.0L284.3 421.1L285.0 421.1L285.6 425.0L286.1 420.4L286.6 425.0L287.1 419.5L287.8 425.0L288.4 413.0L289.2 425.0L289.6 425.0L290.1 413.0L290.8 413.0L291.4 425.0L292.1 413.0L292.6 425.0L293.1 413.0L293.9 425.0L294.4 425.0L295.2 414.2L295.7 425.0L296.2 418.0L297.1 425.0L297.8 425.0L298.2 418.0L298.6 425.0L299.5 425.0L300.0 418.0L300.5 418.0L301.3 418.2L302.2 418.2L303.0 418.2L303.4 418.2L303.9 418.2L304.5 418.2L305.3 418.2L306.1 418.2L306.6 418.2L307.2 418.2L307.8 418.2L308.4 418.2L309.0 418.2L309.9 418.2L310.7 418.2L311.5 418.2L312.1 418.2L312.7 418.2L313.2 418.2L313.8 418.2L314.7 418.2L315.4 418.2L315.8 418.2L316.5 418.2L317.3 418.2L317.8 418.2L318.5 418.1L319.3 417.2L319.7 415.8L320.5 413.5L321.1 411.3L321.9 411.3L322.5 408.7L323.3 403.4L324.0 403.4L324.7 401.0L325.2 401.0L326.0 389.5L326.5 391.8L327.3 382.8L328.0 384.1L328.4 377.2L328.9 377.2L329.6 376.5L330.4 376.5L331.3 362.6L331.8 362.6L332.5 361.6L333.1 353.0L333.8 353.0L334.6 351.3L335.3 341.8L336.1 343.6L336.7 334.8L337.4 334.8L337.9 334.5L338.4 325.8L339.2 328.0L339.7 319.3L340.4 319.3L341.1 317.9L341.6 317.9L342.0 308.2L342.8 310.2L343.2 302.1L343.6 302.1L344.3 304.1L344.9 304.1L345.6 291.7L346.2 296.1L346.8 286.9L347.4 291.4L348.2 291.4L348.7 279.0L349.3 283.4L349.9 273.4L350.4 273.4L350.9 277.1L351.8 277.1L352.2 263.4L352.9 268.8L353.7 257.2L354.1 257.2L354.8 261.1L355.7 261.1L356.6 245.7L357.1 253.2L357.5 242.0L358.4 248.5L359.0 248.5L359.9 234.9L360.5 240.8L361.2 240.8L361.8 227.1L362.6 227.1L363.3 231.1L363.8 231.1L364.5 213.4L365.4 223.7L366.2 223.7L366.9 202.4L367.4 202.4L368.2 213.3L368.9 193.3L369.5 193.3L370.0 205.5L370.7 205.5L371.3 180.6L372.1 180.6L372.7 193.8L373.6 171.5L374.2 171.5L374.9 184.3L375.7 184.3L376.4 163.0L376.9 163.0L377.5 173.1L378.2 173.1L378.6 161.0L379.4 166.3L380.1 157.4L380.6 163.3L381.0 155.4L381.7 155.4L382.4 158.7L383.0 147.1L383.4 156.2L384.0 156.2L384.4 143.6L385.2 143.6L386.0 149.6L386.7 138.3L387.1 146.8L387.7 146.8L388.3 134.4L389.2 141.6L389.8 141.6L390.6 128.9L391.5 128.9L392.3 133.8L392.9 133.8L393.6 120.8L394.2 120.8L394.8 127.4L395.5 127.4L396.0 113.8L396.5 113.8L397.3 119.1L397.8 119.1L398.7 106.6L399.2 106.6L399.9 108.6L400.5 108.6L401.0 108.6L401.0 98.9L401.7 98.9L401.7 93.3L402.2 90.8L402.7 97.5L403.5 84.1L404.0 88.3L404.6 88.3L405.0 81.0L405.9 81.0L406.4 86.6L407.3 81.0L407.7 81.0L408.2 83.8L408.8 81.0L409.6 81.0L410.3 83.6L410.9 81.0L411.4 82.4L412.2 75.0L413.0 75.0L413.7 82.0L414.3 75.0L415.2 80.8L416.0 80.8L416.8 70.1L417.6 80.4L418.5 80.4L419.1 70.1L419.5 70.1L420.0 80.1L420.5 80.1L421.0 69.0L421.5 69.0L422.3 74.3L423.0 74.3L423.5 64.8L424.1 71.7L424.9 71.7L425.5 53.2L426.3 57.8L426.8 51.0L427.3 51.0L427.7 57.0L428.6 57.0L429.4 52.4L430.1 56.9L430.7 56.9L431.3 52.3L432.2 56.9L432.6 52.3L433.1 56.9L433.6 56.9L434.4 49.9L435.1 49.9L436.0 56.8L436.9 56.8L437.5 46.0L438.2 56.8L438.7 56.8L439.6 49.4L440.3 49.4L440.9 57.4L441.5 49.4L441.9 57.4L442.6 49.4L443.1 49.4L443.5 56.8L444.4 49.4L445.3 56.8L446.1 48.5L446.8 48.5L447.5 56.8L448.3 48.5L448.9 56.8L449.7 56.8L450.3 46.0L450.8 46.0L451.4 56.8L451.9 46.0L452.5 46.0L453.2 56.8L453.9 56.8L454.4 46.0L454.8 56.8L455.7 56.8L456.5 46.0L457.0 52.4L457.6 46.0L458.4 46.0L459.1 52.4L459.6 52.4L460.4 46.0L460.8 56.8L461.5 46.0L462.1 46.0L462.6 56.8L463.0 46.0L463.8 46.0L464.3 56.8L465.0 46.0L465.7 46.0L466.6 56.8L467.4 46.0L468.2 56.8L468.6 56.8L469.2 46.0L469.8 46.0L470.7 56.8L471.6 56.8L472.4 48.4L472.9 56.8L473.6 56.8L474.1 46.0L474.6 46.0L475.1 56.8L475.6 56.8L476.5 46.0L477.1 46.0L478.0 56.4L478.5 56.4L478.9 46.0L479.4 56.4L479.9 46.0L480.3 46.0L481.1 56.8L481.5 46.0L482.0 56.8L482.6 46.0L483.3 46.0L484.0 56.8L484.8 56.8L485.4 46.0L486.0 56.7L486.8 56.7L487.4 46.0L487.8 56.7L488.3 56.7L488.7 49.3L489.2 56.7L489.6 49.3L490.4 49.3L490.9 56.8L491.4 56.8L492.3 33.5L492.8 33.5L493.5 56.8L494.1 33.5L494.7 56.8L495.5 33.5L496.1 56.8L496.9 56.8L497.4 33.5L498.1 56.8L498.9 56.8L499.3 33.5L500.0 33.5L500.8 56.8L501.6 33.5L502.3 33.5L502.8 56.8L503.2 56.8L503.7 34.6L504.6 34.6L505.3 56.8L506.0 34.9L506.5 34.9L507.0 56.8L507.4 56.8L507.9 46.0L508.3 56.8L508.8 56.8L509.4 46.0L510.0 46.0L510.5 56.8L510.9 56.8L511.6 39.7L512.1 56.8L512.7 56.8L513.4 46.0L513.9 56.8L514.6 46.0L515.1 56.8L515.9 46.0L516.6 56.8L517.1 56.8L517.7 46.0L518.6 46.0L519.2 56.8L519.8 56.8L520.5 46.0L521.2 46.0L521.9 56.8L522.7 46.0L523.5 46.0L524.3 56.8L525.2 56.8L525.7 46.0L526.4 56.8L527.1 56.8L527.8 46.0L528.5 46.0L529.3 53.1L529.8 46.0L530.6 46.0L531.2 53.1L532.1 53.1L532.7 46.0L533.6 56.8L534.2 46.0L534.9 56.8L535.7 56.8L536.2 46.0L536.8 56.8L537.4 56.8L538.0 46.8L538.7 46.8L539.2 56.8L539.7 48.2L540.1 56.8L541.0 56.8L541.9 50.0L542.7 50.0L543.3 54.8L543.8 54.8L544.3 51.9L545.0 51.9L545.8 55.9L546.2 52.5L547.1 52.5L547.9 58.0L548.4 49.8L549.0 58.0L549.8 47.5L550.5 58.0L551.2 58.0L551.8 46.1L552.5 46.1L553.2 58.0L553.6 46.0L554.4 46.0L555.1 58.0L555.6 51.5L556.3 64.7L557.1 55.3L557.6 55.3L558.2 67.9L558.6 55.3L559.3 55.3L560.1 67.9L561.0 67.9L561.6 55.3L562.3 55.3L562.8 67.9L563.6 67.9L564.5 59.7L565.2 67.9L565.8 59.7L566.2 67.9L566.7 58.8L567.5 58.8L568.3 67.9L568.9 58.8L569.5 58.8L569.9 67.9L570.7 55.3L571.6 55.3L572.0 67.9L572.7 55.3L573.5 55.3L574.2 66.0L574.9 66.0L575.3 56.7L576.2 62.0L576.9 62.0L577.7 56.7L578.3 62.0L579.2 62.0L579.7 56.7L580.5 62.0L581.3 62.0L581.8 56.7L582.4 56.7L583.0 62.0L583.9 62.0L584.7 56.7L585.3 59.5L586.0 59.5L586.8 52.0L587.5 57.5L588.0 57.5L588.6 52.0L589.4 57.5L590.1 57.5L591.0 52.7L591.8 55.8L592.5 55.8L593.2 52.7L593.8 55.8L594.6 52.7L595.1 52.7L595.9 57.5L596.5 57.5L597.1 52.9L597.9 52.9L598.7 57.5L599.3 57.5L600.0 48.1L600.7 48.1L601.6 57.5L602.3 52.0L603.1 52.0L603.5 56.2L603.9 52.0L604.7 52.0L605.2 55.2L605.9 55.2L606.7 46.5L607.6 55.2L608.3 46.5L608.7 59.3L609.6 51.0L610.0 51.0L610.8 59.3L611.6 59.3L612.0 54.5L612.8 58.5L613.6 58.5L614.5 52.0L615.3 57.5L615.7 57.5L616.6 52.0L617.2 52.0L617.7 68.0L618.5 68.0L619.2 56.2L619.7 68.0L620.3 56.2L621.1 68.0L622.0 56.2L622.6 68.0L623.1 68.0L623.9 56.2L624.6 65.0L625.1 65.0L625.9 56.2L626.4 65.0L627.0 56.2L627.5 65.0L628.4 65.0L628.9 56.2L629.7 56.2L630.2 68.0L631.1 68.0L631.9 56.2L632.7 56.2L633.6 68.0L634.3 68.0L635.1 58.6L635.6 68.0L636.2 68.0L636.7 58.6L637.5 68.0L638.1 68.0L638.8 55.0L639.3 65.3L640.1 65.3L640.8 62.0L641.6 62.0L642.5 77.4L643.3 71.3L644.1 82.4L644.8 82.4L645.5 78.0L646.4 78.0L647.2 89.5L647.8 89.5L648.7 81.0L649.3 81.0L650.1 89.5L650.7 89.5L651.2 81.0L652.0 81.0L652.4 89.5L653.2 81.0L654.0 81.0L654.9 89.5L655.5 81.0L656.3 81.0L656.8 89.5L657.2 81.0L657.7 81.0L658.5 89.5L659.1 89.5L659.5 81.0L660.3 89.5L661.0 89.5L661.9 81.0L662.4 81.0L663.1 89.5L663.5 81.4L664.1 81.4L664.7 89.5L665.1 89.5L665.6 81.4L666.2 81.4L667.1 89.5L667.5 81.4L668.3 81.4L668.7 89.5L669.6 81.0L670.0 81.0L670.9 91.4L671.5 91.4L672.1 82.5L673.0 82.5L673.6 110.6L674.2 110.6L675.0 90.6L675.8 90.6L676.6 144.1L677.0 105.1L677.7 164.5L678.5 115.6L679.2 115.6L679.7 180.9L680.3 139.4L680.8 188.6L681.2 188.6L681.9 164.7L682.5 200.6L683.0 200.6L683.8 180.1L684.2 212.2L685.1 212.2L685.6 193.0L686.3 193.0L687.0 230.5L687.6 206.8L688.4 235.7L689.0 216.0L689.6 216.0L690.3 248.0L691.1 229.8L691.6 229.8L692.5 264.1L693.0 264.1L693.5 245.9L694.1 280.4L694.8 280.4L695.4 259.6L696.3 259.6L697.1 301.9L697.9 301.9L698.7 283.5L699.4 309.8L700.3 294.9L700.9 294.9L701.6 317.4L702.1 306.0L702.7 306.0L703.2 322.6L703.7 310.1L704.2 310.1L704.8 327.4L705.5 327.4L706.4 317.5L707.2 333.4L707.8 333.4L708.4 327.1L709.0 339.0L709.6 331.0L710.4 331.0L711.2 343.1L711.6 343.1L712.1 335.3L712.5 346.2L713.0 346.2L713.7 340.4L714.2 340.4L714.6 350.5L715.4 350.5L716.2 347.9L717.0 357.6L717.7 357.6L718.2 351.7L718.7 351.7L719.2 362.0L720.0 355.3L720.7 365.0L721.5 365.0L722.3 359.8L723.0 359.8L723.5 375.3L724.2 375.3L724.7 364.5L725.2 381.8L725.9 381.8L726.5 371.2L727.1 382.6L727.6 371.2L728.0 371.2L728.4 382.6L729.0 382.6L729.7 373.0L730.2 373.0L730.7 382.6L731.3 373.0L732.0 383.5L732.6 373.0L733.2 373.0L734.1 383.5L734.5 373.0L735.3 373.0L736.2 393.1L736.8 393.1L737.6 389.6L738.3 389.6L738.9 393.1L739.6 393.1L740.3 389.6L741.0 393.1L741.6 393.1L742.4 388.2L743.1 393.5L743.7 393.5L744.6 388.2L745.1 394.7L745.8 394.7L746.5 397.4L747.3 397.4L747.8 400.5L748.3 396.5L749.0 396.5L749.8 400.5L750.7 400.5L751.6 396.5L752.2 396.5L752.9 400.0L753.6 400.0L754.4 396.5L755.1 400.5L755.5 396.5L756.1 396.5L756.6 400.5L757.1 400.5L757.8 406.5L758.6 402.6L759.2 406.5L759.9 402.6L760.6 402.6L761.5 406.5L762.2 406.5L762.6 402.6L763.1 402.6L763.8 406.5L764.5 406.5L765.1 400.5L765.5 400.5L766.2 406.5L767.1 406.5L767.8 400.5L768.5 400.5L769.2 408.3L770.0 408.3L770.5 406.5L771.0 406.5L771.8 412.0L772.5 406.5L773.2 406.5L773.6 412.0L774.2 412.0L774.8 408.3L775.2 408.3L776.0 412.0L776.5 406.5L777.3 412.0L778.2 406.5L779.0 406.5L779.5 412.0L780.1 412.0L780.9 413.3L781.6 413.3L782.5 415.6L782.9 415.6L783.7 413.3L784.4 415.6L785.0 415.6L785.5 413.3L786.0 417.0L786.4 417.0L787.3 412.5L788.0 417.0L788.9 413.5L789.5 418.0L790.1 413.5L790.7 413.5L791.4 418.0L792.0 418.0L792.6 414.6L793.5 418.0L794.1 414.6L794.8 414.6L795.2 418.0L795.7 414.6L796.5 417.4L797.2 417.4L797.7 414.3L798.4 414.3L799.3 414.3L799.3 418.6L799.9 418.6L800.7 418.6L801.2 418.6L801.6 418.6L802.4 418.6L803.0 418.6L803.8 418.6L804.3 418.6L804.8 418.6L805.4 418.6L806.0 418.6L806.7 418.6L807.5 418.6L808.3 418.6L809.1 418.6L809.5 418.6L810.0 418.6L810.6 418.6L811.0 418.8L811.5 425.0L812.4 425.0L812.8 419.0L813.6 419.0L814.2 425.0L814.9 419.0L815.4 419.0L815.9 425.0L816.6 425.0L817.4 419.0L817.9 425.8L818.4 425.8L819.0 421.3L819.8 425.8L820.7 421.3L821.6 421.3L822.1 421.3L822.1 425.4L822.8 425.4L823.4 425.4L824.2 425.4L824.7 425.4L825.4 425.4L826.2 425.4L827.1 425.4L827.8 425.4L828.4 425.4L829.0 425.4L829.6 425.4L830.4 425.4L830.8 425.4L831.7 425.4L832.5 425.4L833.2 425.4L834.0 425.4L834.5 425.4L835.4 425.4L836.3 425.4L836.7 425.4L837.4 430.0L838.2 430.0L838.7 425.0L839.5 430.0L840.3 425.0L841.1 430.0L841.5 430.0L842.0 425.0L842.7 425.0L843.5 430.0L844.2 425.0L844.8 430.0L845.4 430.0L845.9 425.0L846.4 430.0L847.1 425.0L847.6 425.0L848.4 430.0L849.2 430.0L849.7 425.0L850.3 430.0L851.0 427.0L851.8 430.0L852.4 430.0L853.1 427.0L853.7 427.0L854.1 430.0L854.6 425.0L855.1 425.0L855.6 430.0L856.4 425.0L857.3 425.0L858.1 430.0L858.5 430.0L859.2 425.0L859.8 430.0L860.4 425.0L860.9 425.0L861.6 430.0L862.2 425.0L862.6 430.0L863.2 430.0L863.8 425.0L864.4 430.0L865.0 430.0L865.7 425.0L866.6 430.0L867.4 430.0L868.2 425.0L868.8 430.0L869.3 430.0L870.1 426.7L870.9 426.7L871.5 430.0L872.3 430.0L873.2 426.7L873.9 426.7L874.4 430.0L875.3 426.7L876.2 430.0L877.0 430.0L877.6 426.1L878.4 430.0L879.2 426.1L880.0 426.1L880.6 430.0L881.2 430.0L881.8 425.0L882.5 425.0L882.9 430.0L883.4 430.0L884.2 425.0L884.9 425.0L885.7 429.8L886.6 425.0L887.2 425.0L887.9 429.8L888.7 429.8L889.1 425.0L889.7 429.8L890.2 429.8L891.0 425.0L891.8 425.0L892.5 430.0L893.1 430.0L893.7 425.0L894.3 425.0L894.7 430.0L895.2 425.0L895.7 425.0L896.6 430.0L897.2 430.0L898.0 425.0L898.6 430.0L899.4 430.0L900.2 425.0L901.0 430.0L901.6 430.0L902.3 425.0L903.2 425.0L903.8 430.0L904.6 430.0L905.2 425.0L905.8 425.0L906.5 430.0L907.3 425.0L907.9 430.0"/>
</g>
<g fill="none">
<path d="M112.8 22.7H998.3V459.7" stroke="#777" stroke-width="1"/>
<path d="M112.85 22.7V459.7" stroke="#222" stroke-width="1.3"/>
<path d="M112.2 459.85H998.8" stroke="#505050" stroke-width="1.9"/>
</g>
<rect x="780.6" y="217.5" width="195.8" height="130" fill="#fff" stroke="#777" stroke-width="1"/>
<g stroke-width="4" fill="none">
<path stroke="#bf00bf" d="M791 240.8H850.6"/>
<path stroke="#ff0000" d="M791 281.7H850.6"/>
<path stroke="#0000ff" d="M791 323.1H850.6"/>
</g>
<g font-family="'Liberation Sans', sans-serif" font-weight="bold" fill="#000">
<g font-size="33.1"><text transform="translate(113.2 495) scale(0.96 1)" text-anchor="middle">0</text><text transform="translate(290.2 495) scale(0.96 1)" text-anchor="middle">5</text><text transform="translate(467.2 495) scale(0.96 1)" text-anchor="middle">10</text><text transform="translate(644.2 495) scale(0.96 1)" text-anchor="middle">15</text><text transform="translate(820.8 495) scale(0.96 1)" text-anchor="middle">20</text><text transform="translate(998.2 495) scale(0.96 1)" text-anchor="middle">25</text><text transform="translate(108.4 471.5) scale(0.96 1)" text-anchor="end">0</text><text transform="translate(108.4 325.0) scale(0.96 1)" text-anchor="end">50</text><text transform="translate(108.4 179.7) scale(0.96 1)" text-anchor="end">100</text><text transform="translate(108.4 34.4) scale(0.96 1)" text-anchor="end">150</text></g>
<g font-size="31">
<text x="857" y="252.6">HCS</text>
<text x="857" y="293.7">ESC</text>
<text x="857" y="334.9">SMESC</text>
</g>
<text font-size="31" x="553" y="528" text-anchor="middle">time(s)</text>
<text font-size="31.3" transform="translate(38.3 244.3) rotate(-90)" text-anchor="middle">Output Power(W)</text>
</g>
</svg>
</div></body></html>
